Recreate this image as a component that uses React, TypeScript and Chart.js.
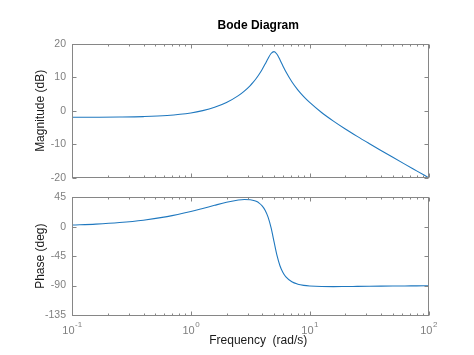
import React, { useEffect, useRef } from 'react';
import { Chart, registerables } from 'chart.js';

Chart.register(...registerables);

// ---- data ----
const FREQ = [
  0.1, 0.1585, 0.2512, 0.3981, 0.631, 1, 1.259, 1.585, 1.995, 2.512,
  2.818, 3.162, 3.311, 3.548, 3.758, 3.981, 4.217, 4.467, 4.732, 5.012,
  5.309, 5.623, 5.957, 6.31, 7.079, 7.943, 8.913, 10, 12.59, 15.85,
  19.95, 25.12, 31.62, 39.81, 50.12, 63.1, 79.43, 100,
];
const MAG_DB = [
  -1.92, -1.9, -1.85, -1.72, -1.39, -0.63, 0.06, 1.06, 2.49, 4.55,
  5.91, 7.58, 8.36, 9.68, 10.94, 12.38, 13.99, 15.69, 17.16, 17.72,
  16.92, 15.27, 13.43, 11.68, 8.71, 6.29, 4.27, 2.52, -0.48, -3.06,
  -5.42, -7.64, -9.77, -11.86, -13.91, -15.94, -17.96, -19.98,
];
const PHASE_DEG = [
  2.54, 4.02, 6.35, 9.97, 15.45, 23.23, 27.88, 32.77, 37.36, 40.82,
  41.62, 41.25, 40.59, 38.77, 36.16, 31.99, 25.34, 14.79, -1.38, -22.73,
  -43.83, -59.64, -70.05, -76.78, -84.24, -87.86, -89.74, -90.74, -91.51, -91.59,
  -91.44, -91.23, -91.02, -90.83, -90.67, -90.54, -90.46, -90.35,
];
const X_TICKS = [0.1, 1, 10, 100];
const X_TICK_BASE = '10';
const X_TICK_EXPONENTS = ['-1', '0', '1', '2'];
const MINOR_MULTIPLIERS = [2, 3, 4, 5, 6, 7, 8, 9];
const MAG_TICKS = [-20, -10, 0, 10, 20];
const PHASE_TICKS = [-135, -90, -45, 0, 45];
const TITLE = 'Bode Diagram';
const X_TITLE = 'Frequency  (rad/s)';
const MAG_TITLE = 'Magnitude (dB)';
const PHASE_TITLE = 'Phase (deg)';

// ---- styles ----
const FONT = '"Liberation Sans", Arial, Helvetica, sans-serif';
const AXIS_COLOR = '#868686';
const TICK_LABEL_COLOR = '#7f7f7f';
const TEXT_COLOR = '#1a1a1a';
const LINE_COLOR = '#1f78bf';

const framePlugin = {
  id: 'matlabFrame',
  afterDatasetsDraw(chart: any, _args: any, opts: any) {
    const { ctx, chartArea: a, scales } = chart;
    const xs = scales.x;
    const ys = scales.y;
    const L = Math.floor(a.left) + 0.5;
    const R = Math.floor(a.right) + 0.5;
    const T = Math.floor(a.top) + 0.5;
    const B = Math.floor(a.bottom) + 0.5;
    ctx.save();
    ctx.strokeStyle = AXIS_COLOR;
    ctx.lineWidth = 1;
    ctx.strokeRect(L, T, R - L, B - T);
    ctx.beginPath();
    const xTick = (v: number, len: number) => {
      const px = Math.round(xs.getPixelForValue(v)) + 0.5;
      ctx.moveTo(px, B);
      ctx.lineTo(px, B - len);
      ctx.moveTo(px, T);
      ctx.lineTo(px, T + len);
    };
    X_TICKS.forEach((v) => xTick(v, 4));
    X_TICKS.forEach((d) => {
      MINOR_MULTIPLIERS.forEach((m) => {
        const v = d * m;
        if (v < xs.max) xTick(v, 2);
      });
    });
    (opts.yTicks as number[]).forEach((v) => {
      const py = Math.round(ys.getPixelForValue(v)) + 0.5;
      ctx.moveTo(L, py);
      ctx.lineTo(L + 4, py);
      ctx.moveTo(R, py);
      ctx.lineTo(R - 4, py);
    });
    ctx.stroke();

    const cx = (a.left + a.right) / 2 + 8;
    ctx.textBaseline = 'middle';
    if (opts.title) {
      ctx.textAlign = 'center';
      ctx.font = `bold 12px ${FONT}`;
      ctx.fillStyle = '#000';
      ctx.fillText(opts.title, cx, a.top - 18);
    }
    if (opts.xLabels) {
      // decade labels with raised exponents, positioned from the x scale
      const baseFont = `11px ${FONT}`;
      const expFont = `8px ${FONT}`;
      ctx.fillStyle = TICK_LABEL_COLOR;
      X_TICKS.forEach((v, i) => {
        const px = xs.getPixelForValue(v);
        ctx.font = baseFont;
        const bw = ctx.measureText(X_TICK_BASE).width;
        ctx.font = expFont;
        const ew = ctx.measureText(X_TICK_EXPONENTS[i]).width;
        const x0 = px - (bw + ew) / 2;
        ctx.textAlign = 'left';
        ctx.font = baseFont;
        ctx.fillText(X_TICK_BASE, x0, a.bottom + 15.5);
        ctx.font = expFont;
        ctx.fillText(X_TICK_EXPONENTS[i], x0 + bw + 0.5, a.bottom + 10);
      });
    }
    if (opts.xTitle) {
      ctx.textAlign = 'center';
      ctx.font = `12px ${FONT}`;
      ctx.fillStyle = TEXT_COLOR;
      ctx.fillText(opts.xTitle, cx, a.bottom + 26);
    }
    ctx.restore();
  },
};

function makeConfig(
  values: number[],
  yTicks: number[],
  yTitle: string,
  xAxisHeight: number,
  padding: any,
  pluginOpts: any,
): any {
  return {
    type: 'line',
    data: {
      datasets: [
        {
          data: FREQ.map((f, i) => ({ x: f, y: values[i] })),
          borderColor: LINE_COLOR,
          borderWidth: 1.1,
          pointRadius: 0,
          fill: false,
          cubicInterpolationMode: 'monotone',
        },
      ],
    },
    options: {
      responsive: false,
      maintainAspectRatio: false,
      animation: false,
      events: [],
      layout: { padding },
      plugins: {
        legend: { display: false },
        tooltip: { enabled: false },
        title: { display: false },
        matlabFrame: { yTicks, ...pluginOpts },
      },
      scales: {
        x: {
          type: 'logarithmic',
          min: X_TICKS[0],
          max: X_TICKS[X_TICKS.length - 1],
          display: xAxisHeight > 0,
          afterBuildTicks: (s: any) => {
            s.ticks = X_TICKS.map((v) => ({ value: v }));
          },
          ticks: { display: false },
          grid: { display: false, drawTicks: false },
          border: { display: false },
          afterFit: (s: any) => {
            s.height = xAxisHeight;
          },
        },
        y: {
          type: 'linear',
          min: yTicks[0],
          max: yTicks[yTicks.length - 1],
          afterBuildTicks: (s: any) => {
            s.ticks = yTicks.map((v) => ({ value: v }));
          },
          ticks: {
            color: TICK_LABEL_COLOR,
            font: { size: 10.5, family: FONT },
            padding: 6,
          },
          grid: { display: false, drawTicks: false },
          border: { display: false },
          title: {
            display: true,
            text: yTitle,
            color: TEXT_COLOR,
            font: { size: 12, family: FONT },
            padding: { top: 33, bottom: 0 },
          },
          afterFit: (s: any) => {
            s.width = 72;
          },
        },
      },
    },
    plugins: [framePlugin],
  };
}

export default function App() {
  const magRef = useRef<HTMLCanvasElement | null>(null);
  const phaseRef = useRef<HTMLCanvasElement | null>(null);

  useEffect(() => {
    if (!magRef.current || !phaseRef.current) return;
    const mag = new Chart(
      magRef.current,
      makeConfig(MAG_DB, MAG_TICKS, MAG_TITLE, 0, { left: 0, right: 45.5, top: 44, bottom: 8 }, { title: TITLE }),
    );
    const phase = new Chart(
      phaseRef.current,
      makeConfig(PHASE_DEG, PHASE_TICKS, PHASE_TITLE, 40, { left: 0, right: 45.5, top: 9, bottom: 0 }, {
        xTitle: X_TITLE,
        xLabels: true,
      }),
    );
    return () => {
      mag.destroy();
      phase.destroy();
    };
  }, []);

  return (
    <div
      style={{
        position: 'fixed',
        left: 0,
        top: 0,
        width: 474,
        height: 355,
        background: '#fff',
        overflow: 'hidden',
      }}
    >
      <canvas
        ref={magRef}
        width={474}
        height={190}
        style={{ position: 'absolute', left: 0, top: 0, width: 474, height: 190 }}
      />
      <canvas
        ref={phaseRef}
        width={474}
        height={170}
        style={{ position: 'absolute', left: 0, top: 185, width: 474, height: 170 }}
      />
    </div>
  );
}
